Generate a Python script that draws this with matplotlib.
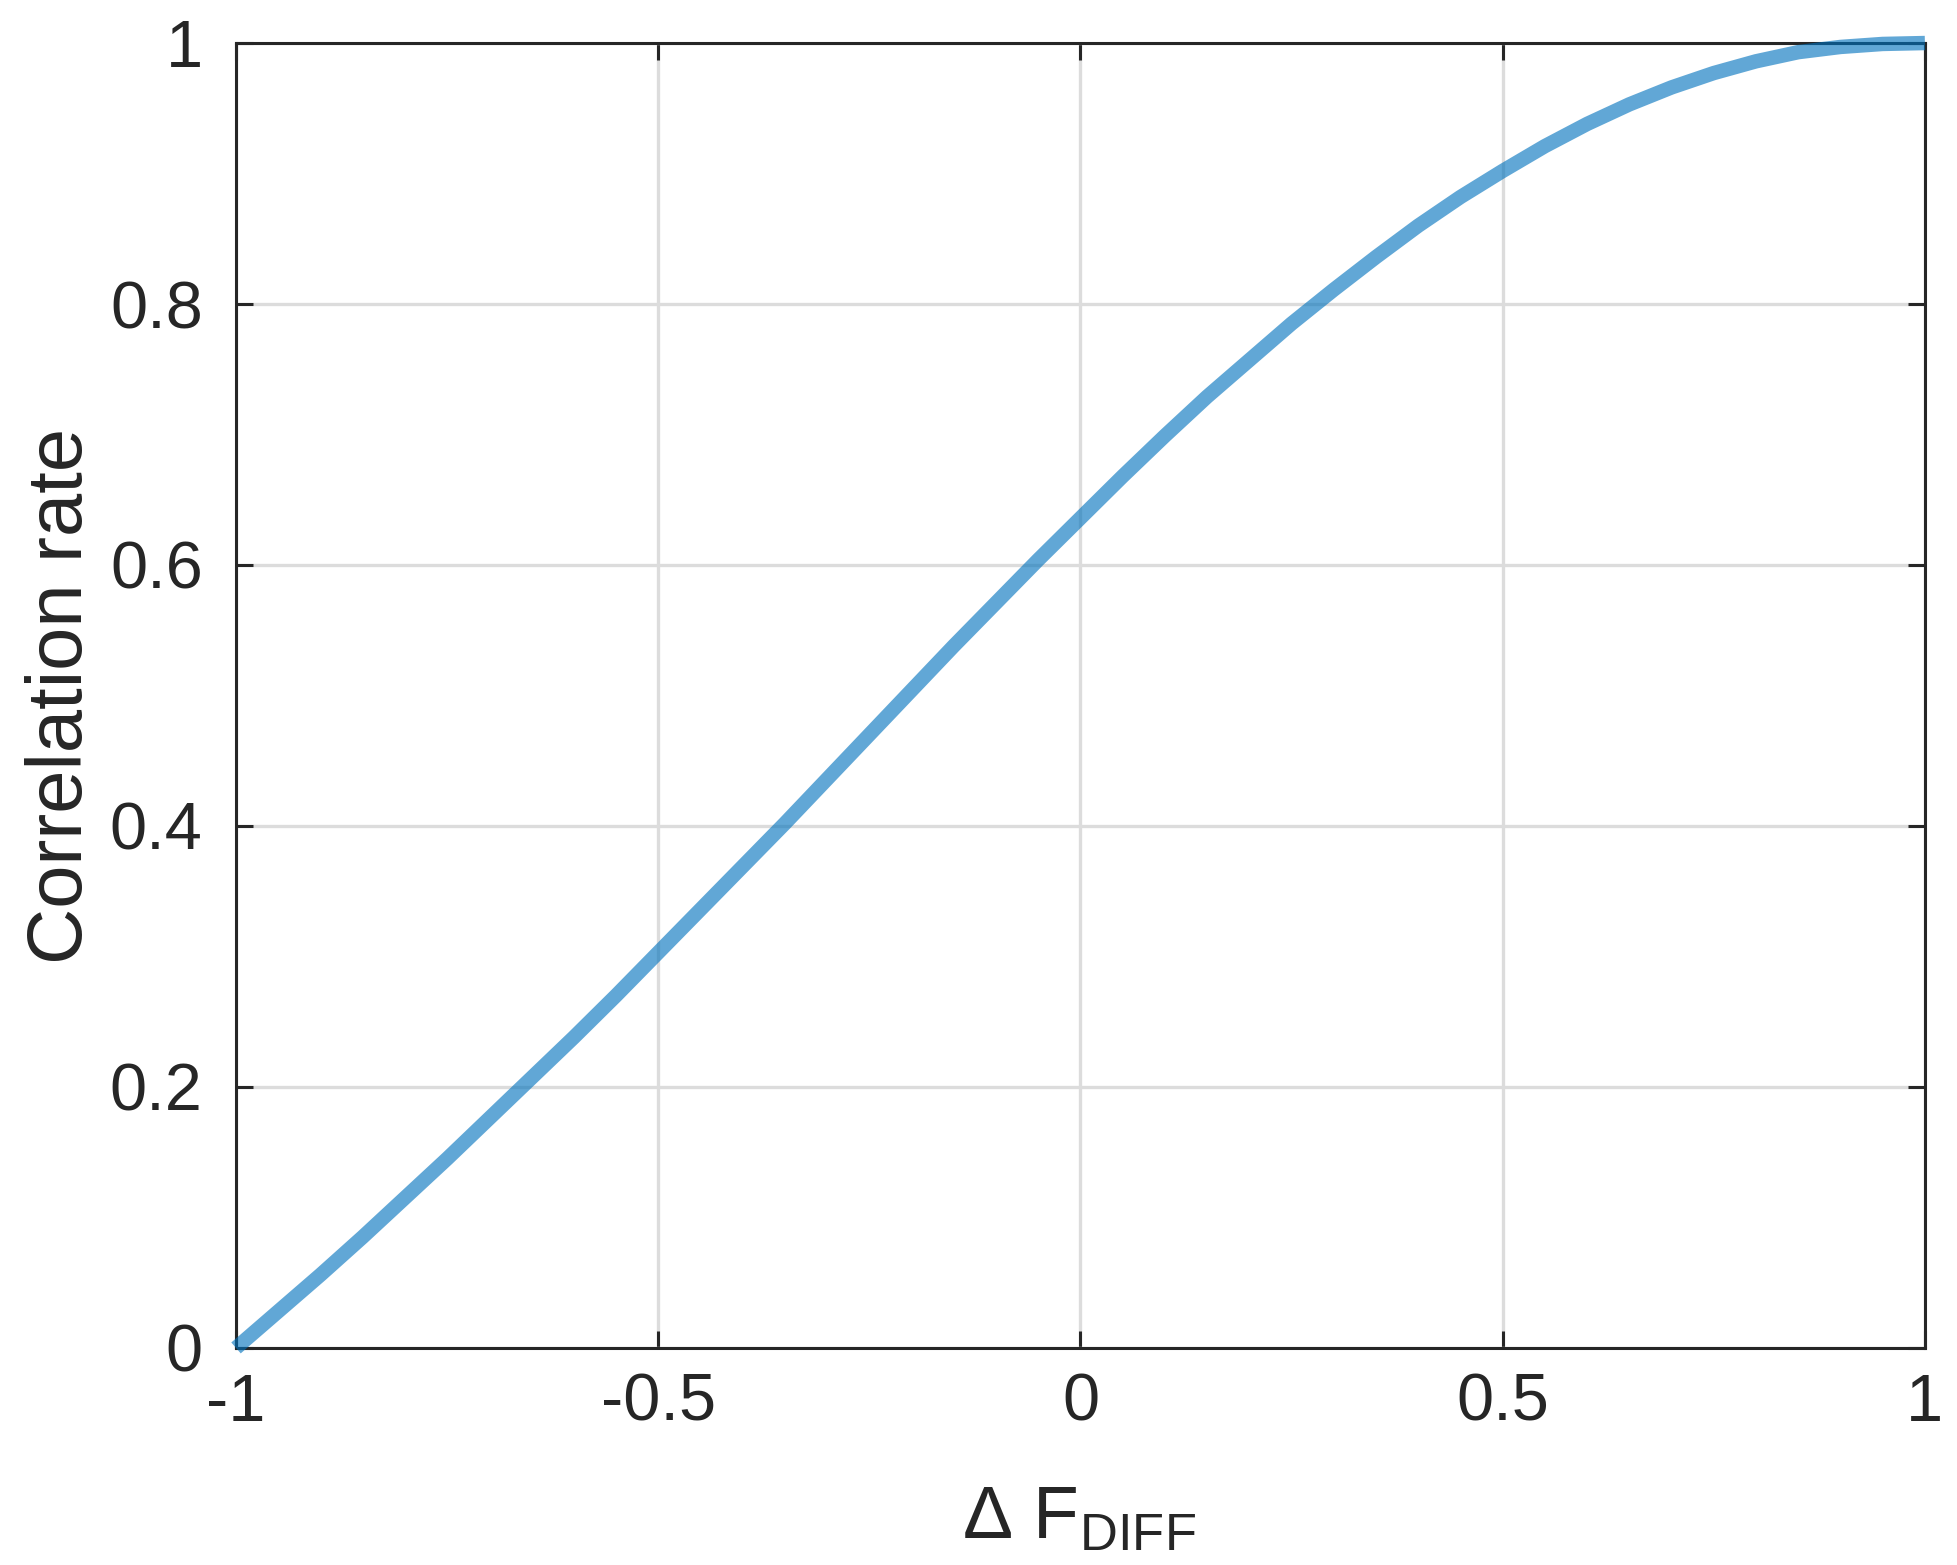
import matplotlib
matplotlib.use("Agg")
import matplotlib.pyplot as plt

plt.rcParams['font.family'] = ['Liberation Sans', 'DejaVu Sans']
plt.rcParams['mathtext.fontset'] = 'custom'
plt.rcParams['mathtext.rm'] = 'Liberation Sans'

# Data
delta_f = [-1.00, -0.95, -0.90, -0.85, -0.80, -0.75, -0.70, -0.65, -0.60, -0.55,
           -0.50, -0.45, -0.40, -0.35, -0.30, -0.25, -0.20, -0.15, -0.10, -0.05,
           0.00, 0.05, 0.10, 0.15, 0.20, 0.25, 0.30, 0.35, 0.40, 0.45,
           0.50, 0.55, 0.60, 0.65, 0.70, 0.75, 0.80, 0.85, 0.90, 0.95, 1.00]
corr_rate = [0.000, 0.028, 0.056, 0.085, 0.115, 0.145, 0.176, 0.207, 0.238, 0.270,
             0.303, 0.336, 0.369, 0.402, 0.436, 0.470, 0.504, 0.538, 0.571, 0.604,
             0.636, 0.668, 0.699, 0.729, 0.757, 0.785, 0.811, 0.836, 0.860, 0.882,
             0.902, 0.921, 0.938, 0.953, 0.966, 0.977, 0.986, 0.993, 0.997, 0.9993, 1.000]

x_ticks = [-1, -0.5, 0, 0.5, 1]
x_tick_labels = ['-1', '-0.5', '0', '0.5', '1']
y_ticks = [0, 0.2, 0.4, 0.6, 0.8, 1]
y_tick_labels = ['0', '0.2', '0.4', '0.6', '0.8', '1']

fig = plt.figure(figsize=(9.785, 7.825), dpi=200)
ax = fig.add_axes([0.1206, 0.1387, 0.863, 0.8338])

ax.plot(delta_f, corr_rate, color=(0.0, 0.447, 0.741), alpha=0.62, lw=5.2,
        solid_capstyle='butt', solid_joinstyle='round', clip_on=False, zorder=4)

ax.set_xlim(-1, 1)
ax.set_ylim(0, 1)
ax.set_xticks(x_ticks)
ax.set_xticklabels(x_tick_labels)
ax.set_yticks(y_ticks)
ax.set_yticklabels(y_tick_labels)

ax.grid(True, color='#dcdcdc', lw=1.2, zorder=0)
ax.set_axisbelow(True)

for s in ax.spines.values():
    s.set_color('#262626')
    s.set_linewidth(1.1)
    s.set_zorder(3)

ax.tick_params(axis='both', which='major', direction='in', length=6.1, width=1.1,
               colors='#262626', labelsize=24, top=True, right=True)
ax.tick_params(axis='x', pad=9)
ax.tick_params(axis='y', pad=12)

ax.set_ylabel('Correlation rate', fontsize=28, color='#262626')
ax.yaxis.set_label_coords(-0.082, 0.5)
ax.set_xlabel('Δ F$_{\\mathrm{DIFF}}$', fontsize=27, color='#262626', va='baseline')
ax.xaxis.set_label_coords(0.499, -0.146)

fig.savefig('out.png', dpi=200)
